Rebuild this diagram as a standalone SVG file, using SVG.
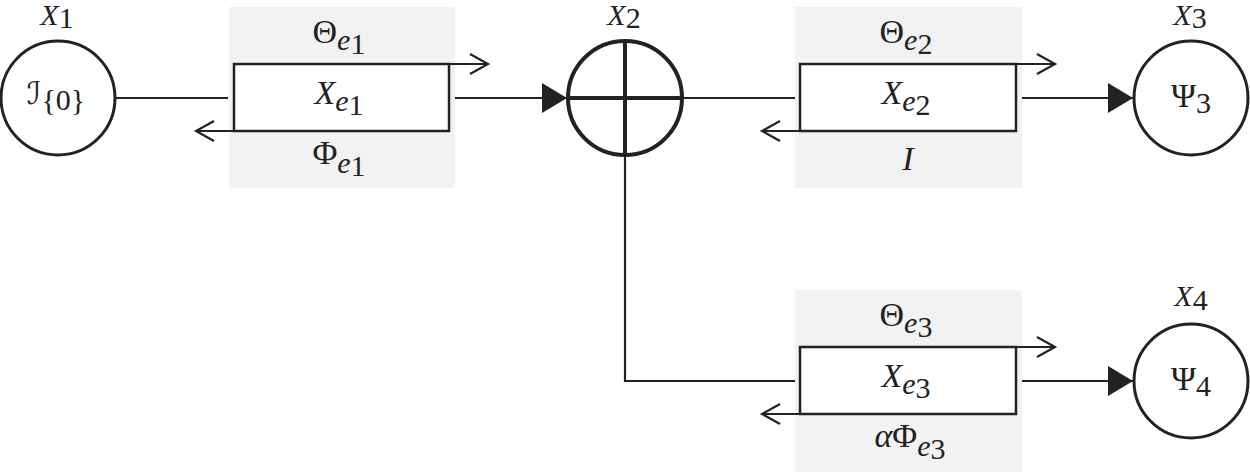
<svg xmlns="http://www.w3.org/2000/svg" width="1250" height="472" viewBox="0 0 1250 472">
<style>
text{font-family:"Liberation Serif","DejaVu Serif",serif;font-size:34px;fill:#222;text-anchor:middle}
.i{font-style:italic}
.s{font-size:30px}
.top{font-size:30px}
.bg{fill:#f2f2f2;stroke:none}
.box{fill:#fff;stroke:#222;stroke-width:2.5}
.node{fill:#fff;stroke:#222;stroke-width:3}
.ln{fill:none;stroke:#222;stroke-width:2.2}
.open{fill:none;stroke:#222;stroke-width:2.2}
</style>
<defs>
<marker id="tri" markerWidth="26" markerHeight="30" refX="25" refY="15" orient="auto" markerUnits="userSpaceOnUse">
<path d="M0,0 L25,15 L0,30 Z" fill="#222"/>
</marker>
<marker id="chev" markerWidth="22" markerHeight="24" refX="19" refY="11" orient="auto" markerUnits="userSpaceOnUse">
<path d="M1,1 L19,11 L1,21" fill="none" stroke="#222" stroke-width="2.2"/>
</marker>
</defs>

<g id="edge-e1">
<rect class="bg" x="229" y="7" width="226" height="181"/>
<rect class="box" x="234" y="64" width="215" height="67"/>
<text x="339" y="104"><tspan class="i">X</tspan><tspan class="s i" dy="7">e</tspan><tspan class="s" dy="4">1</tspan></text>
<text x="339" y="43">Θ<tspan class="s i" dy="7">e</tspan><tspan class="s" dy="4">1</tspan></text>
<text x="339" y="164">Φ<tspan class="s i" dy="9">e</tspan><tspan class="s" dy="3">1</tspan></text>
</g>
<g id="edge-e2">
<rect class="bg" x="795" y="7" width="227" height="181"/>
<rect class="box" x="800" y="64" width="216" height="67"/>
<text x="906" y="104"><tspan class="i">X</tspan><tspan class="s i" dy="7">e</tspan><tspan class="s" dy="4">2</tspan></text>
<text x="906" y="43">Θ<tspan class="s i" dy="7">e</tspan><tspan class="s" dy="4">2</tspan></text>
<text x="908" y="170" class="i">I</text>
</g>
<g id="edge-e3">
<rect class="bg" x="795" y="290" width="227" height="182"/>
<rect class="box" x="800" y="347" width="216" height="67"/>
<text x="906" y="387"><tspan class="i">X</tspan><tspan class="s i" dy="7">e</tspan><tspan class="s" dy="4">3</tspan></text>
<text x="906" y="326">Θ<tspan class="s i" dy="7">e</tspan><tspan class="s" dy="4">3</tspan></text>
<text x="910" y="447"><tspan class="i">α</tspan>Φ<tspan class="s i" dy="9">e</tspan><tspan class="s" dy="3">3</tspan></text>
</g>

<g id="connectors">
<line class="ln" x1="116" y1="98" x2="228" y2="98"/>
<line class="ln" x1="455" y1="98" x2="567" y2="98" marker-end="url(#tri)"/>
<line class="ln" x1="683" y1="98" x2="795" y2="98"/>
<line class="ln" x1="1022" y1="98" x2="1133" y2="98" marker-end="url(#tri)"/>
<polyline class="ln" points="625,155 625,381 795,381"/>
<line class="ln" x1="1022" y1="381" x2="1133" y2="381" marker-end="url(#tri)"/>
<line class="open" x1="449" y1="64" x2="488" y2="64" marker-end="url(#chev)"/>
<line class="open" x1="234" y1="131" x2="196" y2="131" marker-end="url(#chev)"/>
<line class="open" x1="1016" y1="64" x2="1055" y2="64" marker-end="url(#chev)"/>
<line class="open" x1="800" y1="131" x2="762" y2="131" marker-end="url(#chev)"/>
<line class="open" x1="1016" y1="347" x2="1055" y2="347" marker-end="url(#chev)"/>
<line class="open" x1="800" y1="414" x2="762" y2="414" marker-end="url(#chev)"/>
</g>

<g id="X1">
<circle class="node" cx="58" cy="98" r="57"/>
<text class="top" x="57" y="25"><tspan class="i">X</tspan><tspan dy="3">1</tspan></text>
<text x="56" y="104"><tspan font-family="DejaVu Serif,DejaVu Sans,serif" font-size="31">ℐ</tspan><tspan class="s" dy="6">{0}</tspan></text>
</g>
<g id="X2">
<circle cx="625" cy="98" r="57" fill="#fff" stroke="#222" stroke-width="4"/>
<line x1="568" y1="98" x2="682" y2="98" stroke="#222" stroke-width="4"/>
<line x1="625" y1="41" x2="625" y2="155" stroke="#222" stroke-width="4"/>
<text class="top" x="624" y="25"><tspan class="i">X</tspan><tspan dy="3">2</tspan></text>
</g>
<g id="X3">
<circle class="node" cx="1191" cy="98" r="57"/>
<text class="top" x="1190" y="25"><tspan class="i">X</tspan><tspan dy="3">3</tspan></text>
<text x="1191" y="107">Ψ<tspan class="s" dy="6">3</tspan></text>
</g>
<g id="X4">
<circle class="node" cx="1191" cy="381" r="57"/>
<text class="top" x="1191" y="306"><tspan class="i">X</tspan><tspan dy="4">4</tspan></text>
<text x="1191" y="390">Ψ<tspan class="s" dy="6">4</tspan></text>
</g>
</svg>
